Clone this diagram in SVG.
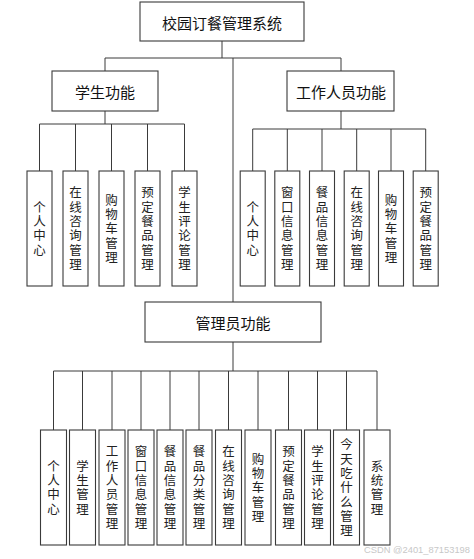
<svg xmlns="http://www.w3.org/2000/svg" width="474" height="559" viewBox="0 0 474 559">
<style>
.box{fill:#fff;stroke:#3a3a3a;stroke-width:1.1}
.ln{stroke:#3a3a3a;stroke-width:1;fill:none}
.t{font-family:"Noto Sans CJK SC","Noto Sans",sans-serif;font-size:15px;fill:#111;text-anchor:middle;dominant-baseline:central}
.v{font-family:"Noto Sans CJK SC","Noto Sans",sans-serif;font-size:12.5px;fill:#222;text-anchor:middle;writing-mode:vertical-rl;letter-spacing:1.8px}
.wm{font-family:"Liberation Sans",sans-serif;font-size:9.5px;fill:#c8c8c8}
</style>
<rect width="474" height="559" fill="#fff"/>
<g id="connectors">
<path class="ln" d="M222,41V58M105,58H341M105,58V71M341,58V71M233,58V302"/>
<path class="ln" d="M105,111V124M39.5,124H184.5M39.5,124V171M75.5,124V171M111.5,124V171M147.5,124V171M184.5,124V171"/>
<path class="ln" d="M341,111V129M252.7,129H425.7M252.7,129V171M287.3,129V171M322,129V171M356.7,129V171M391,129V171M425.7,129V171"/>
<path class="ln" d="M233,342V371M53.5,371H377M53.5,371V430M82.5,371V430M112,371V430M141,371V430M170,371V430M199,371V430M228.5,371V430M258,371V430M288.5,371V430M317.5,371V430M346.5,371V430M377,371V430"/>
</g>
<g id="root"><rect class="box" x="140" y="2" width="164" height="39"/><text class="t" x="222" y="22">校园订餐管理系统</text></g>
<g id="student"><rect class="box" x="52" y="71" width="106" height="40"/><text class="t" x="105" y="91">学生功能</text></g>
<g id="staff"><rect class="box" x="287" y="71" width="107" height="40"/><text class="t" x="341" y="91">工作人员功能</text></g>
<g id="admin"><rect class="box" x="145" y="302" width="176" height="40"/><text class="t" x="233" y="322">管理员功能</text></g>

<g id="s1"><rect class="box" x="27" y="171" width="25" height="115"/><text class="v" x="39.5" y="229.4">个人中心</text></g>
<g id="s2"><rect class="box" x="63" y="171" width="25" height="115"/><text class="v" x="75.5" y="229.4">在线咨询管理</text></g>
<g id="s3"><rect class="box" x="99" y="171" width="25" height="115"/><text class="v" x="111.5" y="229.4">购物车管理</text></g>
<g id="s4"><rect class="box" x="135" y="171" width="25" height="115"/><text class="v" x="147.5" y="229.4">预定餐品管理</text></g>
<g id="s5"><rect class="box" x="172" y="171" width="25" height="115"/><text class="v" x="184.5" y="229.4">学生评论管理</text></g>

<g id="w1"><rect class="box" x="240.2" y="171" width="25" height="115"/><text class="v" x="252.7" y="229.4">个人中心</text></g>
<g id="w2"><rect class="box" x="274.8" y="171" width="25" height="115"/><text class="v" x="287.3" y="229.4">窗口信息管理</text></g>
<g id="w3"><rect class="box" x="309.5" y="171" width="25" height="115"/><text class="v" x="322" y="229.4">餐品信息管理</text></g>
<g id="w4"><rect class="box" x="344.2" y="171" width="25" height="115"/><text class="v" x="356.7" y="229.4">在线咨询管理</text></g>
<g id="w5"><rect class="box" x="378.5" y="171" width="25" height="115"/><text class="v" x="391" y="229.4">购物车管理</text></g>
<g id="w6"><rect class="box" x="413.2" y="171" width="25" height="115"/><text class="v" x="425.7" y="229.4">预定餐品管理</text></g>

<g id="a1"><rect class="box" x="40.5" y="430" width="26" height="115"/><text class="v" x="53.5" y="488.4">个人中心</text></g>
<g id="a2"><rect class="box" x="69.5" y="430" width="26" height="115"/><text class="v" x="82.5" y="488.4">学生管理</text></g>
<g id="a3"><rect class="box" x="99" y="430" width="26" height="115"/><text class="v" x="112" y="488.4">工作人员管理</text></g>
<g id="a4"><rect class="box" x="128" y="430" width="26" height="115"/><text class="v" x="141" y="488.4">窗口信息管理</text></g>
<g id="a5"><rect class="box" x="157" y="430" width="26" height="115"/><text class="v" x="170" y="488.4">餐品信息管理</text></g>
<g id="a6"><rect class="box" x="186" y="430" width="26" height="115"/><text class="v" x="199" y="488.4">餐品分类管理</text></g>
<g id="a7"><rect class="box" x="215.5" y="430" width="26" height="115"/><text class="v" x="228.5" y="488.4">在线咨询管理</text></g>
<g id="a8"><rect class="box" x="245" y="430" width="26" height="115"/><text class="v" x="258" y="488.4">购物车管理</text></g>
<g id="a9"><rect class="box" x="275.5" y="430" width="26" height="115"/><text class="v" x="288.5" y="488.4">预定餐品管理</text></g>
<g id="a10"><rect class="box" x="304.5" y="430" width="26" height="115"/><text class="v" x="317.5" y="488.4">学生评论管理</text></g>
<g id="a11"><rect class="box" x="333.5" y="430" width="26" height="115"/><text class="v" x="346.5" y="488.4">今天吃什么管理</text></g>
<g id="a12"><rect class="box" x="364" y="430" width="26" height="115"/><text class="v" x="377" y="488.4">系统管理</text></g>

<text class="wm" x="364" y="553" textLength="106" lengthAdjust="spacingAndGlyphs">CSDN @2401_87153198</text>
</svg>
